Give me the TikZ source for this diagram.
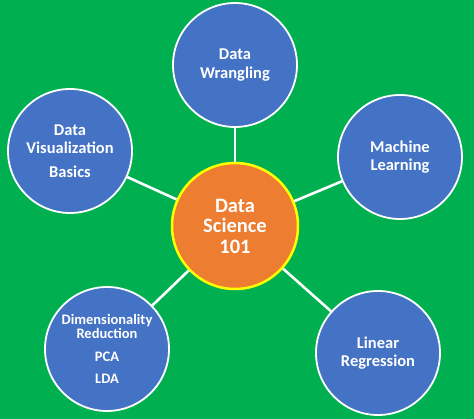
\documentclass[tikz,border=0pt]{standalone}
\usepackage{fontspec}
\setmainfont{Carlito}
\definecolor{bggreen}{HTML}{00B050}
\definecolor{topicblue}{HTML}{4472C4}
\definecolor{huborange}{HTML}{ED7D31}
\definecolor{hubyellow}{HTML}{FFFF00}
\begin{document}
\begin{tikzpicture}[
    x=1pt, y=-1pt,
    topic/.style={
        circle, draw=white, line width=1.8pt, fill=topicblue,
        minimum size=124pt, inner sep=0pt,
        align=center, text=white, font=\fontsize{16.5}{18.5}\selectfont\bfseries
    },
    hub/.style={
        circle, draw=hubyellow, line width=2.5pt, fill=huborange,
        minimum size=126pt, inner sep=0pt,
        align=center, text=white, font=\fontsize{20.5}{20.5}\selectfont\bfseries
    },
    spoke/.style={draw=white, line width=2.6pt}
]

\fill[bggreen] (0,0) rectangle (474,419);
\useasboundingbox (0,0) rectangle (474,419);

\node[hub]   (ds)    at (235, 226) {Data\\Science\\101};
\node[topic] (wrang) at (235, 65)  {Data\\Wrangling};
\node[topic] (vis)   at (70, 151)  {Data\\Visualization\\[5pt]Basics};
\node[topic] (ml)    at (400, 157) {Machine\\Learning};
\node[topic, font=\fontsize{14.5}{14.5}\selectfont\bfseries]
             (dim)   at (107, 349) {Dimensionality\\Reduction\\[8pt]PCA\\[8pt]LDA};
\node[topic] (lr)    at (378, 353) {Linear\\Regression};

\draw[spoke] (ds) -- (wrang);
\draw[spoke] (ds) -- (vis);
\draw[spoke] (ds) -- (ml);
\draw[spoke] (ds) -- (dim);
\draw[spoke] (ds) -- (lr);

\end{tikzpicture}
\end{document}
